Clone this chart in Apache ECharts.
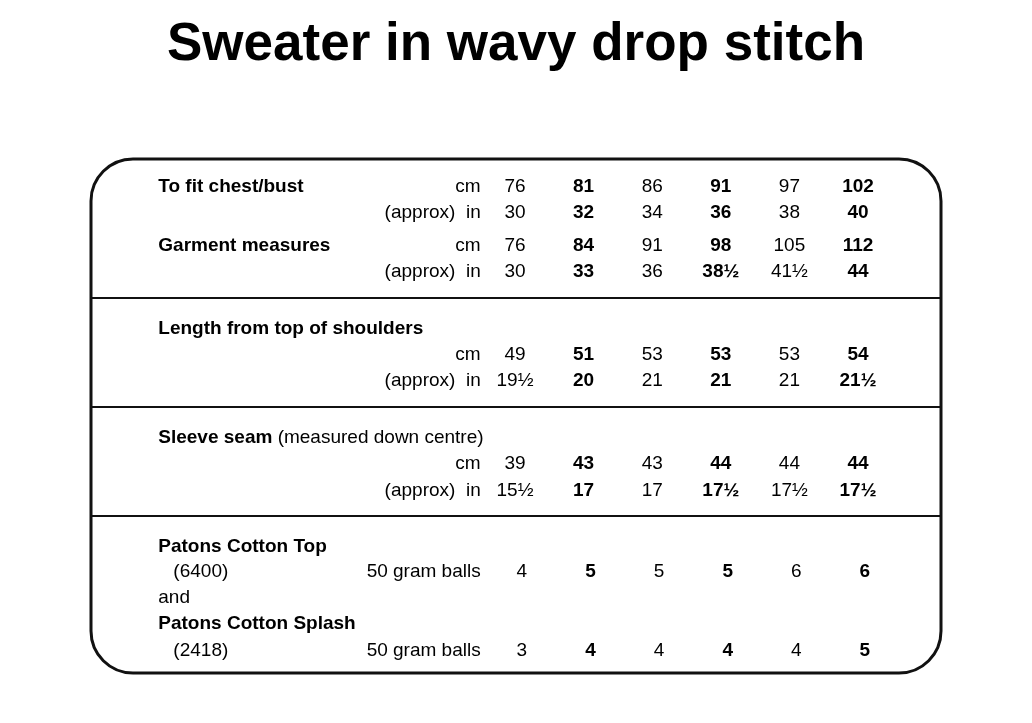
<!DOCTYPE html>
<html><head><meta charset="utf-8">
<script src="https://cdn.jsdelivr.net/npm/echarts@6/dist/echarts.min.js"></script>
<style>html,body{margin:0;background:#fff}#c{width:1032px;height:723px}</style>
</head><body><div id="c"></div>
<script>
var title = 'Sweater in wavy drop stitch';
var chestCm = ['76','81','86','91','97','102'];
var chestIn = ['30','32','34','36','38','40'];
var garmentCm = ['76','84','91','98','105','112'];
var garmentIn = ['30','33','36','38½','41½','44'];
var lengthCm = ['49','51','53','53','53','54'];
var lengthIn = ['19½','20','21','21','21','21½'];
var sleeveCm = ['39','43','43','44','44','44'];
var sleeveIn = ['15½','17','17','17½','17½','17½'];
var topBalls = ['4','5','5','5','6','6'];
var splashBalls = ['3','4','4','4','4','5'];
// row line positions (in text-line units) and labels
var valueRows = [
  [1.1, chestCm, 'cm'], [2.1, chestIn, '(approx)  in'],
  [3.4, garmentCm, 'cm'], [4.4, garmentIn, '(approx)  in'],
  [7.62, lengthCm, 'cm'], [8.62, lengthIn, '(approx)  in'],
  [11.82, sleeveCm, 'cm'], [12.87, sleeveIn, '(approx)  in'],
  [16.02, topBalls, '50 gram balls'], [19.07, splashBalls, '50 gram balls']
];
var headRows = [
  [1.1, 'To fit chest/bust', true, -5.2],
  [3.4, 'Garment measures', true, -5.2],
  [6.62, 'Length from top of shoulders', true, -5.2],
  [10.82, '{b|Sleeve seam} (measured down centre)', false, -5.2],
  [15.02, 'Patons Cotton Top', true, -5.2],
  [16.02, '(6400)', false, -4.98],
  [17.02, 'and', false, -5.2],
  [18.02, 'Patons Cotton Splash', true, -5.2],
  [19.07, '(2418)', false, -4.98]
];
var U = 68.6, X0 = 515;
var vals = [], units = [], heads = [];
valueRows.forEach(function (r) {
  var balls = r[2].indexOf('balls') >= 0;
  r[1].forEach(function (v, i) {
    vals.push({value: [i + (balls ? 0.1 : 0), r[0]], name: v,
      label: {fontWeight: i % 2 ? 'bold' : 'normal'}});
  });
  units.push({value: [-0.5, r[0]], name: r[2]});
});
headRows.forEach(function (h) {
  heads.push({value: [h[3], h[0]], name: h[1], label: {fontWeight: h[2] ? 'bold' : 'normal'}});
});
var chart = echarts.init(document.getElementById('c'));
function ser(data, align) {
  return {type: 'scatter', symbolSize: 0, silent: true, data: data,
    itemStyle: {opacity: 1},
    label: {show: true, position: 'inside', align: align, color: '#000', fontSize: 19,
      opacity: 1, textBorderWidth: 0, fontFamily: 'Liberation Sans',
      formatter: function (p) { return p.name; },
      rich: {b: {fontWeight: 'bold', fontSize: 19, fontFamily: 'Liberation Sans', color: '#000'}}}};
}
chart.setOption({
  backgroundColor: '#fff',
  animation: false,
  title: {text: title, left: 'center', top: 14,
    textStyle: {fontSize: 53, fontWeight: 'bold', color: '#000', fontFamily: 'Liberation Sans'}},
  grid: {left: 0, right: 0, top: 158, height: 517},
  xAxis: {type: 'value', min: -X0 / U, max: (1032 - X0) / U, show: false},
  yAxis: {type: 'value', min: 0, max: 20, inverse: true, show: false},
  graphic: [
    {type: 'rect', shape: {x: 91, y: 159, width: 850, height: 514, r: 42},
      style: {fill: 'none', stroke: '#111', lineWidth: 3}},
    {type: 'line', shape: {x1: 92, y1: 298, x2: 940, y2: 298}, style: {stroke: '#111', lineWidth: 2}},
    {type: 'line', shape: {x1: 92, y1: 407, x2: 940, y2: 407}, style: {stroke: '#111', lineWidth: 2}},
    {type: 'line', shape: {x1: 92, y1: 516, x2: 940, y2: 516}, style: {stroke: '#111', lineWidth: 2}}
  ],
  series: [ser(vals, 'center'), ser(units, 'right'), ser(heads, 'left')]
});
</script></body></html>
